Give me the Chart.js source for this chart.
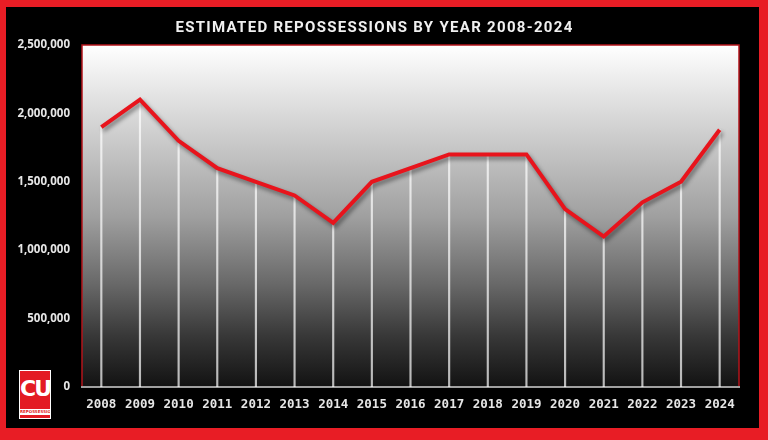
<!DOCTYPE html>
<html>
<head>
<meta charset="utf-8">
<script src="https://cdn.jsdelivr.net/npm/chart.js@4.4.1/dist/chart.umd.min.js"></script>
<style>
  html, body { margin: 0; padding: 0; background: #000; }
  #wrap { position: relative; width: 768px; height: 440px; }
  #logo {
    position: absolute; left: 19px; top: 370px; width: 30px; height: 47px;
    background: #e31b23; border: 1px solid #fff; overflow: hidden;
    font-family: "DejaVu Sans", sans-serif; color: #fff; text-align: center;
  }
  #logo .big { font-weight: bold; font-size: 22px; line-height: 36px; letter-spacing: -2px; }
  #logo .small { background: #fff; color: #e31b23; font-size: 4px; line-height: 6px; margin-top: 2px; font-weight: bold; }
</style>
</head>
<body>
<div id="wrap">
  <canvas id="myChart" width="768" height="440"></canvas>
  <div id="logo"><div class="big">CU</div><div class="small">REPOSSESSION</div></div>
</div>
<script>
const years = ['2008', '2009', '2010', '2011', '2012', '2013', '2014', '2015', '2016',
    '2017', '2018', '2019', '2020', '2021', '2022', '2023', '2024'];
const repossessions = [1900000, 2100000, 1800000, 1600000, 1500000, 1400000, 1200000, 1500000,
    1600000, 1700000, 1700000, 1700000, 1300000, 1100000, 1350000, 1500000, 1880000];
const yTicks = [0, 500000, 1000000, 1500000, 2000000, 2500000];

// frame, gradient plot background, line shadow, spaced title
const backdrop = {
    id: 'backdrop',
    afterInit(chart) {
        const tb = chart.titleBlock;
        const orig = tb.draw.bind(tb);
        tb.draw = function () {
            chart.ctx.save();
            chart.ctx.letterSpacing = '1.3px';
            orig();
            chart.ctx.restore();
        };
    },
    beforeDraw(chart) {
        const { ctx, chartArea: a, width, height } = chart;
        ctx.save();
        ctx.fillStyle = '#e81d25';
        ctx.fillRect(0, 0, width, height);
        ctx.fillStyle = '#000';
        ctx.fillRect(6, 7, width - 15, height - 19);
        const g = ctx.createLinearGradient(0, a.top, 0, a.bottom);
        g.addColorStop(0, '#ffffff');
        g.addColorStop(0.25, '#d0d0d0');
        g.addColorStop(0.5, '#a0a0a0');
        g.addColorStop(0.7, '#686868');
        g.addColorStop(0.85, '#383838');
        g.addColorStop(1, '#121212');
        ctx.fillStyle = g;
        ctx.fillRect(a.left, a.top, a.right - a.left, a.bottom - a.top);
        ctx.strokeStyle = '#b3141b';
        ctx.lineWidth = 1.5;
        ctx.strokeRect(a.left, a.top, a.right - a.left, a.bottom - a.top);
        ctx.restore();
    },
    beforeDatasetDraw(chart, args) {
        if (args.index === 0) {
            const ctx = chart.ctx;
            ctx.save();
            ctx.shadowColor = 'rgba(0,0,0,0.45)';
            ctx.shadowBlur = 4;
            ctx.shadowOffsetX = 2;
            ctx.shadowOffsetY = 3;
        }
    },
    afterDatasetDraw(chart, args) {
        if (args.index === 0) chart.ctx.restore();
    },
};

const config = {
    data: {
        labels: years,
        datasets: [{
            type: 'line',
            data: repossessions,
            borderColor: '#e8141c',
            borderWidth: 4,
            pointRadius: 0,
            tension: 0,
            order: 0,
        }, {
            type: 'bar',
            data: repossessions,
            backgroundColor: 'rgba(255,255,255,0.7)',
            barThickness: 1.5,
            order: 1,
        }],
    },
    options: {
        responsive: false,
        animation: false,
        layout: { padding: { left: 10, right: 29, top: 0, bottom: 18 } },
        plugins: {
            legend: { display: false },
            tooltip: { enabled: false },
            title: {
                display: true,
                text: 'ESTIMATED REPOSSESSIONS BY YEAR 2008-2024',
                color: '#f0f0f0',
                font: { family: 'Roboto', size: 15, weight: 'bold' },
                padding: { top: 19, bottom: 8 },
            },
        },
        scales: {
            x: {
                offset: true,
                grid: { display: false, drawTicks: false },
                border: { color: '#a0a0a0', width: 2 },
                ticks: {
                    color: '#e6e6e6',
                    padding: 10,
                    font: { family: 'DejaVu Sans Mono', size: 12.5, weight: 'bold' },
                },
            },
            y: {
                min: 0,
                max: 2500000,
                afterFit: s => { s.width = 72; },
                afterBuildTicks: s => { s.ticks = yTicks.map(v => ({ value: v })); },
                grid: { display: false, drawTicks: false },
                border: { display: false },
                ticks: {
                    color: '#e6e6e6',
                    padding: 12,
                    font: { family: 'Open Sans', size: 11.5, weight: 'bold' },
                    callback: v => v.toLocaleString('en-US'),
                },
            },
        },
    },
    plugins: [backdrop],
};

const ctx = document.getElementById('myChart').getContext('2d');
const myChart = new Chart(ctx, config);
</script>
</body>
</html>
